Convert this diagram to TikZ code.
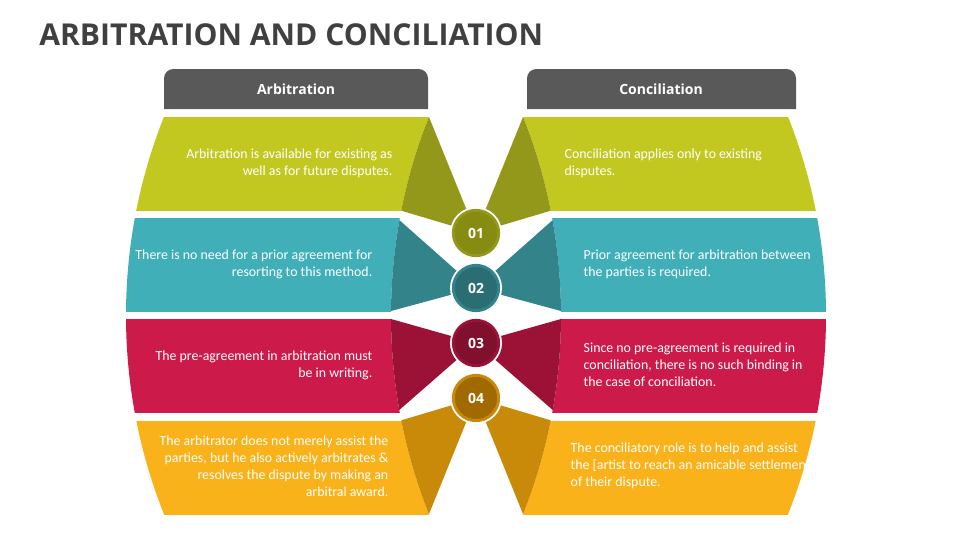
\documentclass[tikz,border=0pt]{standalone}
\usepackage{fontspec}
\setmainfont{Carlito}
\newfontfamily\titlefont{Open Sans}
\usetikzlibrary{positioning}
\definecolor{titlegray}{HTML}{404040}
\definecolor{headgray}{HTML}{595959}
\definecolor{lgreen}{HTML}{C3C821}\definecolor{dgreen}{HTML}{93981A}\definecolor{cgreen}{HTML}{868B12}
\definecolor{lteal}{HTML}{40AFB8}\definecolor{dteal}{HTML}{33838A}\definecolor{cteal}{HTML}{2A6E74}
\definecolor{lred}{HTML}{CC1A4A}\definecolor{dred}{HTML}{9B1236}\definecolor{cred}{HTML}{80102E}
\definecolor{lyellow}{HTML}{F9B21A}\definecolor{dyellow}{HTML}{C98A0A}\definecolor{cyellow}{HTML}{A06A00}
\tikzset{
  header/.style={fill=headgray},
  headtext/.style={text=white,font=\titlefont\bfseries\fontsize{10.5}{12}\selectfont},
  bodytext/.style={text=white,font=\fontsize{10.4}{12.8}\selectfont},
  numdisc/.style={circle,minimum size=34pt,inner sep=0pt,text=white,
    font=\titlefont\bfseries\fontsize{10.5}{12}\selectfont,line width=2.2pt}
}
% one band of one side: top, bottom, light, dark, centre y, top x, bottom x
\newcommand{\bandrow}[7]{%
  \begin{scope}
    \clip (663,315.5) circle[radius=402.75pt];
    \clip (100,#1) rectangle (445,#2);
    \fill[#3,even odd rule] (90,#1-2) rectangle (460,#2+2) (928,315.5) circle[radius=402.75pt];
  \end{scope}
  \begin{scope}
    \clip (928,315.5) circle[radius=402.75pt];
    \fill[#4] (370,#1) -- (#6,#1) -- (476,#5) -- (#7,#2) -- (370,#2) -- cycle;
  \end{scope}}
% all four bands of one side; the other side is its mirror image
\newcommand{\bandside}{%
  \bandrow{117}{210}{lgreen}{dgreen}{233}{429}{399}
  \bandrow{218}{311}{lteal}{dteal}{288}{397}{391}
  \bandrow{319}{412}{lred}{dred}{343}{391}{397}
  \bandrow{421}{514}{lyellow}{dyellow}{398}{399}{429}}
\begin{document}
\begin{tikzpicture}[x=0.75pt,y=-0.75pt]
\useasboundingbox (0,0) rectangle (960,540);

\node[anchor=west,text=titlegray,font=\titlefont\bfseries\fontsize{22.6}{26}\selectfont,inner sep=0pt] (title) at (39,35) {ARBITRATION AND CONCILIATION};

% headers
\fill[header] (164,109) [rounded corners=7pt] -- (164,69) -- (428,69) [sharp corners] -- (428,109) -- cycle;
\fill[header] (527,109) [rounded corners=7pt] -- (527,69) -- (796,69) [sharp corners] -- (796,109) -- cycle;
\node[headtext] (arbhead) at (296,89) {Arbitration};
\node[headtext] (conhead) at (661,89) {Conciliation};

% bands
\bandside
\begin{scope}[xshift=714pt,xscale=-1]
\bandside
\end{scope}

% numbered discs
\foreach \n/\y/\ring/\core in {1/233/dgreen/cgreen,2/288/dteal/cteal,3/343/dred/cred,4/398/dyellow/cyellow}{
  \fill[white] (476,\y) circle[radius=19.5pt];
  \node[numdisc,fill=\core,draw=\ring] (c\n) at (476,\y) {0\n};
}

% left texts
\node[bodytext,align=right,anchor=east] (l1) at (397,163) {Arbitration is available for existing as\\well as for future disputes.};
\node[bodytext,align=right,anchor=east] (l2) at (377,264) {There is no need for a prior agreement for\\resorting to this method.};
\node[bodytext,align=right,anchor=east] (l3) at (377,365) {The pre-agreement in arbitration must\\be in writing.};
\node[bodytext,align=right,anchor=east] (l4) at (393,466) {The arbitrator does not merely assist the\\parties, but he also actively arbitrates \&\\resolves the dispute by making an\\arbitral award.};

% right texts
\node[bodytext,align=left,anchor=west] (r1) at (560,163) {Conciliation applies only to existing\\disputes.};
\node[bodytext,align=left,anchor=west] (r2) at (579,264) {Prior agreement for arbitration between\\the parties is required.};
\node[bodytext,align=left,anchor=west] (r3) at (579,365) {Since no pre-agreement is required in\\conciliation, there is no such binding in\\the case of conciliation.};
\node[bodytext,align=left,anchor=west] (r4) at (566,466) {The conciliatory role is to help and assist\\the [artist to reach an amicable settlement\\of their dispute.};
\end{tikzpicture}
\end{document}
